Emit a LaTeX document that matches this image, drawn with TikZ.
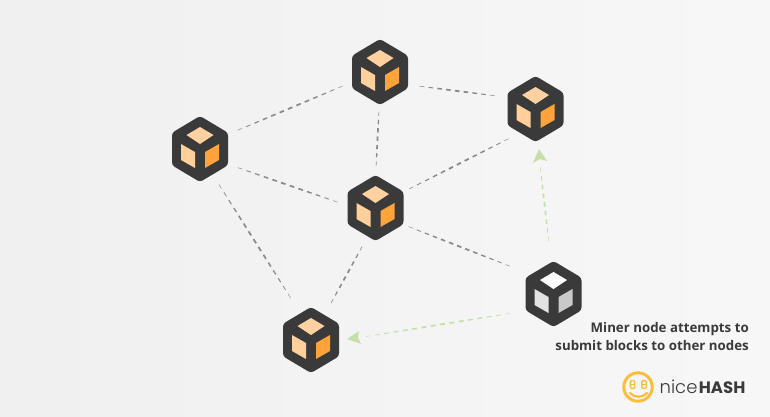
\documentclass[tikz,border=0pt]{standalone}
\usepackage{fontspec}
\setmainfont{Open Sans}
\newfontfamily\logolight{Poppins Light}
\newfontfamily\logoheavy{Poppins}
\usetikzlibrary{calc}
\definecolor{hexdark}{HTML}{3A3A3A}
\definecolor{topface}{HTML}{FFD0A0}
\definecolor{leftface}{HTML}{FFCF9C}
\definecolor{rightface}{HTML}{FFA33A}
\definecolor{linkgrey}{HTML}{8A8A8A}
\definecolor{linkgreen}{HTML}{C4E0A8}
\definecolor{logoyellow}{HTML}{FBBE3C}
\newcommand{\taperlink}[4]{%
  \foreach \i in {1,...,#4} {
    \pgfmathsetmacro{\ta}{(\i-1+0.2)/#4}
    \pgfmathsetmacro{\tb}{(\i-1+0.72)/#4}
    \pgfmathsetmacro{\wd}{0.3+1.5*sin(180*(\i-0.5)/#4)}
    \draw[#3,line width=\wd pt] ($(#1)!\ta!(#2)$) -- ($(#1)!\tb!(#2)$);
  }%
}
\tikzset{
  x=1pt,y=-1pt,
  link/.style={draw=linkgrey},
  sendlink/.style={draw=linkgreen},
  sendtip/.style={fill=linkgreen,draw=none},
  caption/.style={font=\fontsize{13.3}{15}\selectfont\bfseries,text=hexdark,align=right,anchor=east,inner sep=0pt},
  pics/cube/.style args={#1/#2/#3}{code={
    \fill[hexdark,rounded corners=3pt] (0,-33) -- (28,-16.3) -- (28,16.3) -- (0,33) -- (-28,16.3) -- (-28,-16.3) -- cycle;
    \fill[#1] (0,-22) -- (13.5,-14) -- (0,-5) -- (-13.5,-14) -- cycle;
    \fill[#2] (-19,-5) -- (-5,3) -- (-5,19) -- (-19,11) -- cycle;
    \fill[#3] (19,-5) -- (5,3) -- (5,19) -- (19,11) -- cycle;
  }}
}
\begin{document}
\begin{tikzpicture}
\useasboundingbox (0,0) rectangle (770,416);
\shade[left color=black!6,right color=black!3] (0,0) rectangle (770,416);
\coordinate (ab1) at (236,131); \coordinate (ab2) at (345,85);
\coordinate (bc1) at (418,86); \coordinate (bc2) at (497,96);
\coordinate (bd1) at (379,110); \coordinate (bd2) at (376,168);
\coordinate (ad1) at (236,167); \coordinate (ad2) at (340,203);
\coordinate (cd1) at (510,138); \coordinate (cd2) at (407,190);
\coordinate (ae1) at (218,183); \coordinate (ae2) at (292,300);
\coordinate (de1) at (363,245); \coordinate (de2) at (330,305);
\coordinate (df1) at (407,226); \coordinate (df2) at (512,267);
\coordinate (fc1) at (549,243); \coordinate (fc2) at (540,165);
\coordinate (fe1) at (512,313); \coordinate (fe2) at (363,337);
\taperlink{ab1}{ab2}{link}{13}
\taperlink{bc1}{bc2}{link}{9}
\taperlink{bd1}{bd2}{link}{7}
\taperlink{ad1}{ad2}{link}{12}
\taperlink{cd1}{cd2}{link}{13}
\taperlink{ae1}{ae2}{link}{15}
\taperlink{de1}{de2}{link}{8}
\taperlink{df1}{df2}{link}{13}
\taperlink{fc1}{fc2}{sendlink}{9}
\taperlink{fe1}{fe2}{sendlink}{16}
\fill[sendtip] (539,149) -- (547,161) -- (540,159) -- (533,163) -- cycle;
\fill[sendtip] (347,339) -- (359,331) -- (358,338) -- (361,344) -- cycle;
\pic at (200,149) {cube=topface/leftface/rightface};
\pic at (380,72) {cube=topface/leftface/rightface};
\pic at (535.5,109) {cube=topface/leftface/rightface};
\pic at (375.5,208) {cube=topface/leftface/rightface};
\pic at (311,340) {cube=topface/leftface/rightface};
\pic at (553.5,294) {cube=white/black!11/black!21};
\node[caption] (cap1) at (749,329) {Miner node attempts to};
\node[caption] (cap2) at (749,346) {submit blocks to other nodes};
% logo
\draw[logoyellow,line width=3pt] (638,387) circle (14.2);
\draw[logoyellow,line width=2.2pt,line cap=round] (630,393) .. controls (634,398) and (643,398) .. (647,393);
\foreach \ex in {632.5,644} {
  \draw[logoyellow,line width=1.4pt,rounded corners=1.2pt] (\ex-2.2,380.5) rectangle (\ex+2.2,388.5);
  \draw[logoyellow,line width=1.2pt] (\ex-2.2,384.5) -- (\ex+2.2,384.5);
}
\node[inner sep=0pt,anchor=base west,text=hexdark,font=\fontsize{18}{20}\selectfont\logolight] (logonice) at (659.5,393) {nice};
\node[inner sep=0pt,anchor=base east,text=hexdark,font=\fontsize{16.5}{20}\selectfont\logoheavy\bfseries] (logohash) at (745.5,393) {HASH};
\end{tikzpicture}
\end{document}
